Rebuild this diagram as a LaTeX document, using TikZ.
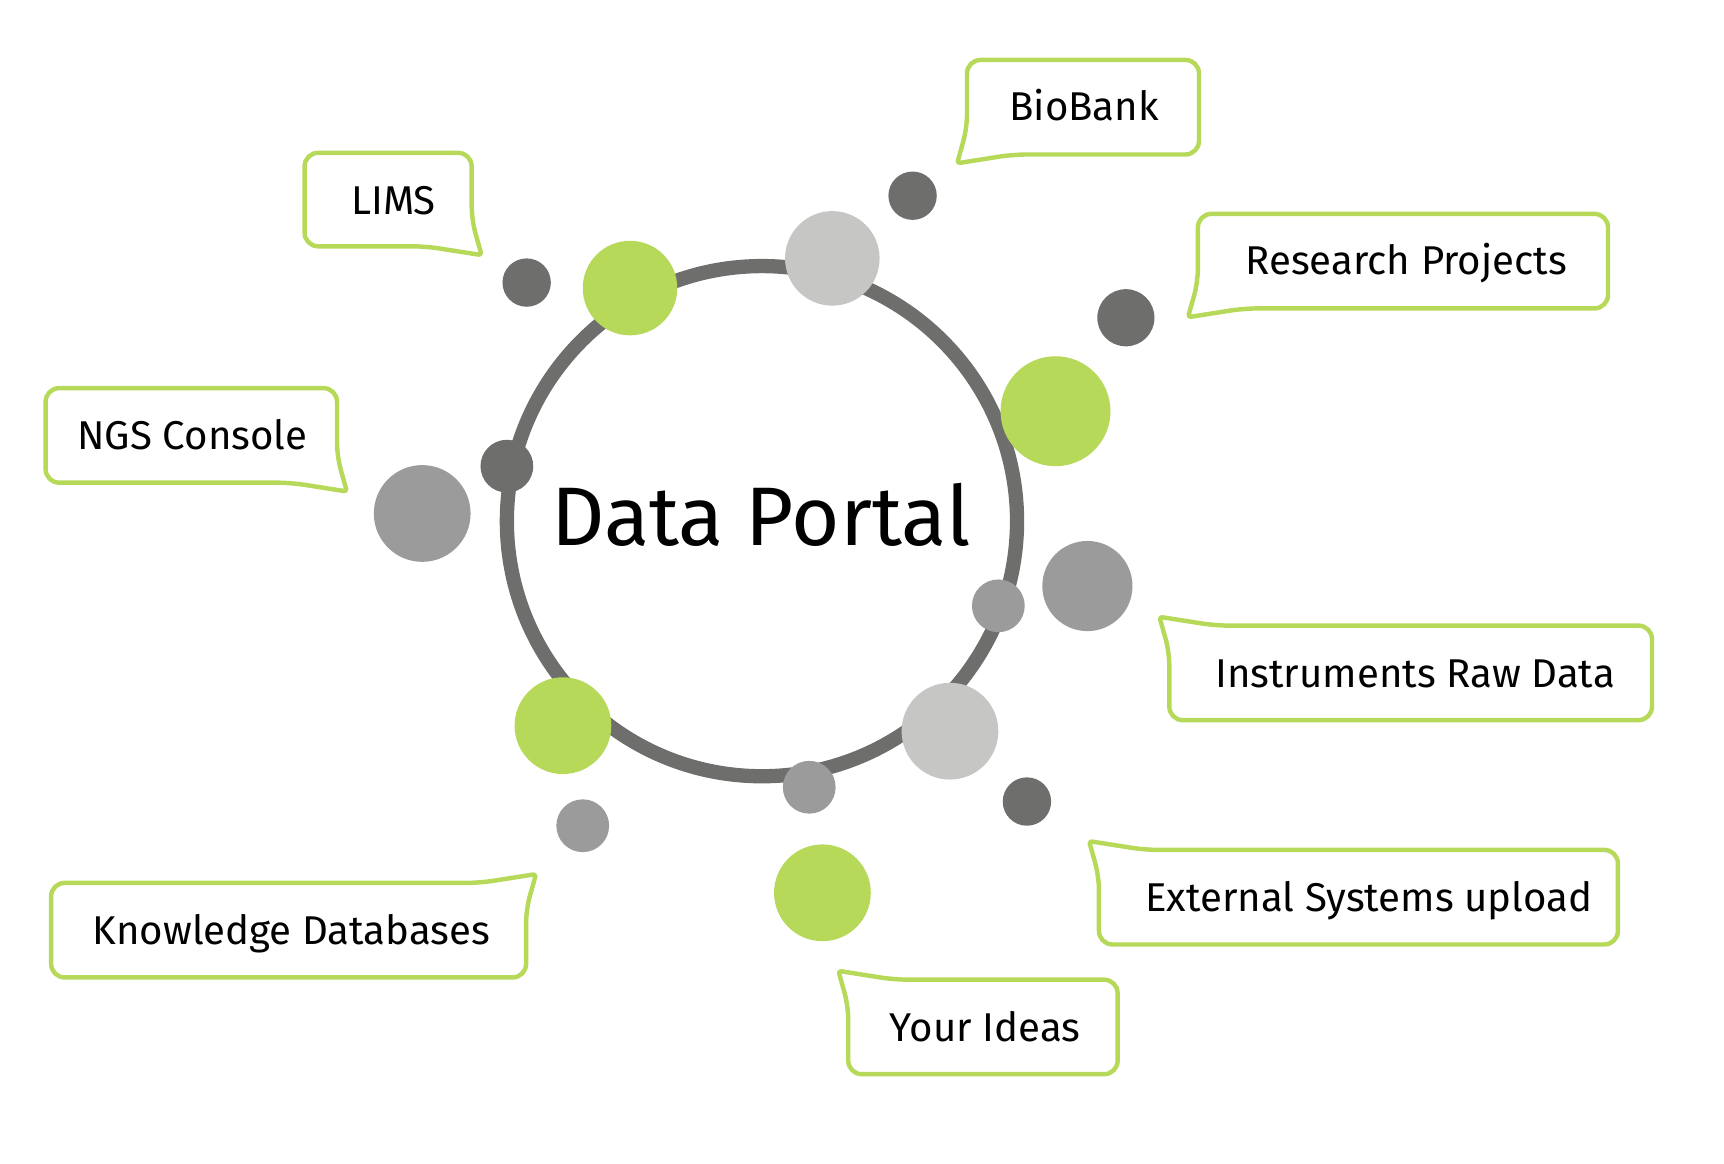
\documentclass[tikz,border=0pt]{standalone}
\usepackage{fontspec}
\setmainfont{Fira Sans}
\usepackage{tikz}

\definecolor{portalgreen}{RGB}{183,217,90}
\definecolor{darkdot}{RGB}{110,110,108}
\definecolor{middot}{RGB}{155,155,155}
\definecolor{lightdot}{RGB}{198,198,196}

\tikzset{
  bubble/.style={draw=portalgreen, line width=2.3pt, fill=white, line join=round},
  bubbletext/.style={anchor=base, inner sep=0pt, font=\fontsize{20.8}{24}\selectfont},
}

% speech bubble: centre x, centre y, half width, half height, xscale, yscale
\newcommand{\callout}[6]{%
  \begin{scope}[shift={(#1,#2)}, xscale=#5, yscale=#6]
    \draw[bubble, rounded corners=7pt] (0,-#4) -- (#3,-#4) -- (#3,#4-24)
      [rounded corners=1.5pt] -- (#3+9,#4+8)
      [rounded corners=7pt] -- (#3-42,#4) -- (-#3,#4) -- (-#3,-#4) -- cycle;
  \end{scope}}

\begin{document}
\begin{tikzpicture}[x=0.02cm, y=-0.02cm]

    \useasboundingbox (0,0) rectangle (1568,1058);

    % Ring
    \draw[darkdot, line width=7.4pt] (693,474) circle (232);

    % Dots round the ring
    \fill[darkdot] (479,257) circle (22);
    \fill[portalgreen] (573,262) circle (43);
    \fill[lightdot] (757,235) circle (43);
    \fill[darkdot] (830,178) circle (22);
    \fill[darkdot] (1024,289) circle (26);
    \fill[portalgreen] (960,374) circle (50);
    \fill[darkdot] (461,424) circle (24);
    \fill[middot] (384,467) circle (44);
    \fill[middot] (989,533) circle (41);
    \fill[middot] (908,551) circle (24);
    \fill[portalgreen] (512,660) circle (44);
    \fill[lightdot] (864,665) circle (44);
    \fill[middot] (736,716) circle (24);
    \fill[darkdot] (934,729) circle (22);
    \fill[middot] (530,751) circle (24);
    \fill[portalgreen] (748,812) circle (44);

    % Title
    \node[anchor=base, inner sep=0pt, font=\fontsize{43}{50}\selectfont] (portal) at (692,496) {Data Portal};

    % Speech bubbles
    \callout{353}{181.5}{76}{42.5}{1}{1}
    \callout{985}{97.5}{105.5}{43}{-1}{1}
    \callout{1276}{237.5}{186.5}{43}{-1}{1}
    \callout{174}{396}{132.5}{43}{1}{1}
    \callout{1283}{612}{219.5}{43}{-1}{-1}
    \callout{1235.5}{816}{236}{43}{-1}{-1}
    \callout{262.5}{846}{216}{43}{1}{-1}
    \callout{894}{934}{122.5}{43}{-1}{-1}

    % Bubble labels
    \node[bubbletext] (lims) at (358,195) {LIMS};
    \node[bubbletext] (biobank) at (986,110) {BioBank};
    \node[bubbletext] (research) at (1279,250) {Research Projects};
    \node[bubbletext] (ngs) at (175,409) {NGS Console};
    \node[bubbletext] (instruments) at (1287,625) {Instruments Raw Data};
    \node[bubbletext] (external) at (1245,829) {External Systems upload};
    \node[bubbletext] (knowledge) at (265,859) {Knowledge Databases};
    \node[bubbletext] (ideas) at (896,947) {Your Ideas};

\end{tikzpicture}
\end{document}
